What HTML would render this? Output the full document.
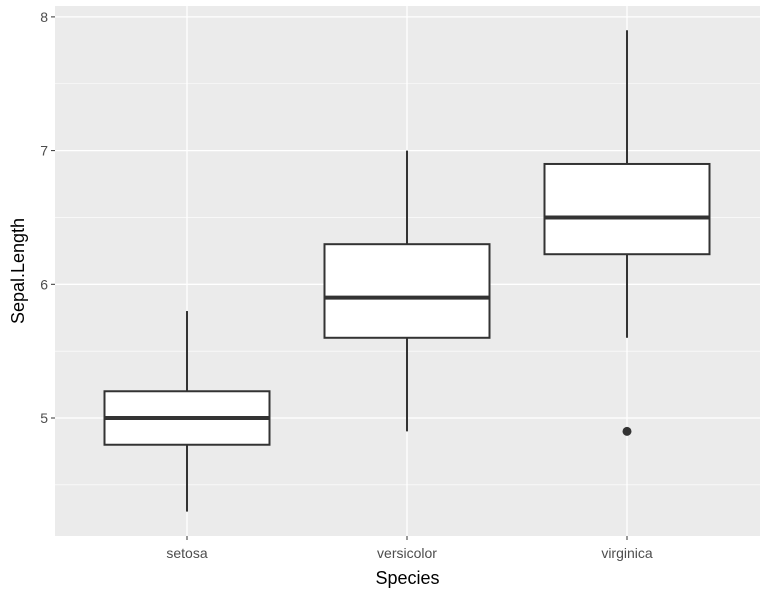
<!DOCTYPE html>
<html><head><meta charset="utf-8"><style>body{margin:0;background:#fff}svg{display:block;font-family:"Liberation Sans",sans-serif}</style></head>
<body>
<svg id="c" width="768" height="595"></svg>
<script>
const categories=["setosa","versicolor","virginica"];
const lowerWhisker=[4.3,4.9,5.6];
const q1=[4.8,5.6,6.225];
const medians=[5.0,5.9,6.5];
const q3=[5.2,6.3,6.9];
const upperWhisker=[5.8,7.0,7.9];
const outliers=[[],[],[4.9]];
const yTicks=[5,6,7,8];
const yMinor=[4.5,5.5,6.5,7.5];
const NS="http://www.w3.org/2000/svg";
const svg=document.getElementById("c");
const L=55,R=760,T=6,B=536;
const y=v=>418-(v-5)*133.7;
const xs=i=>187+i*220;
const bw=165;
function mk(t,a,p){const e=document.createElementNS(NS,t);for(const k in a)e.setAttribute(k,a[k]);(p||svg).appendChild(e);return e;}
const bg=mk("rect",{x:L,y:T,width:R-L,height:B-T,fill:"#ebebeb"});


yMinor.forEach(v=>{const l=mk("line",{x1:L,x2:R,y1:y(v),y2:y(v),stroke:"#fff","stroke-width":0.6});

});
yTicks.forEach(v=>{const l=mk("line",{x1:L,x2:R,y1:y(v),y2:y(v),stroke:"#fff","stroke-width":1.3});


const tk=mk("line",{x1:L-4,x2:L,y1:y(v),y2:y(v),stroke:"#333","stroke-width":1});


const t=mk("text",{x:L-7,y:y(v)+5,"text-anchor":"end","font-size":14,fill:"#4d4d4d"});t.textContent=v;

});
categories.forEach((c,i)=>{const x=xs(i);
const g=mk("line",{x1:x,x2:x,y1:T,y2:B,stroke:"#fff","stroke-width":1.3});


const tk=mk("line",{x1:x,x2:x,y1:B,y2:B+4,stroke:"#333"});


const t=mk("text",{x:x,y:B+22,"text-anchor":"middle","font-size":14,fill:"#4d4d4d"});t.textContent=c;


const grp=mk("g",{});


mk("line",{x1:x,x2:x,y1:y(upperWhisker[i]),y2:y(q3[i]),stroke:"#333","stroke-width":2},grp);
mk("line",{x1:x,x2:x,y1:y(q1[i]),y2:y(lowerWhisker[i]),stroke:"#333","stroke-width":2},grp);
mk("rect",{x:x-bw/2,y:y(q3[i]),width:bw,height:y(q1[i])-y(q3[i]),fill:"#fff",stroke:"#333","stroke-width":2},grp);
mk("line",{x1:x-bw/2,x2:x+bw/2,y1:y(medians[i]),y2:y(medians[i]),stroke:"#333","stroke-width":4},grp);
outliers[i].forEach(o=>{const p=mk("circle",{cx:x,cy:y(o),r:4.5,fill:"#333"});

});
});
const xt=mk("text",{x:(L+R)/2,y:584,"text-anchor":"middle","font-size":18,fill:"#000"});xt.textContent="Species";


const yt=mk("text",{x:0,y:0,"text-anchor":"middle","font-size":18,fill:"#000",transform:"translate(24,"+((T+B)/2)+") rotate(-90)"});yt.textContent="Sepal.Length";


</script>
</body></html>
